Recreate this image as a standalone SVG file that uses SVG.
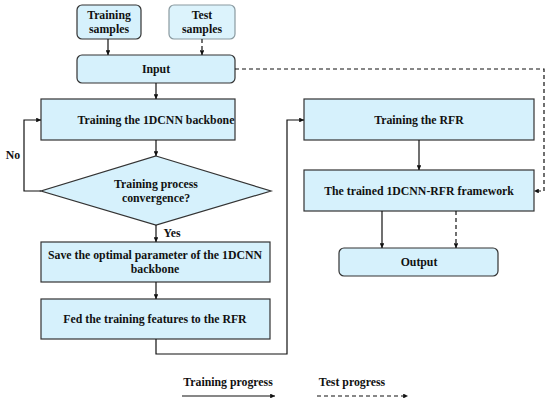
<svg xmlns="http://www.w3.org/2000/svg" width="550" height="404" viewBox="0 0 550 404">
<defs>
<marker id="ah" viewBox="0 0 10 10" refX="10" refY="5" markerWidth="4" markerHeight="4" orient="auto"><path d="M0,0 L10,5 L0,10 z" fill="#111"/></marker>
<style>
.box{fill:#d6f1fc;stroke:#333;stroke-width:1.2}
.tbox{fill:#dcf3fc;stroke:#8a9aa0;stroke-width:1.2}
.t{font-family:"Liberation Serif","Times New Roman",serif;font-weight:bold;font-size:11.8px;fill:#111;text-anchor:middle}
.s{fill:none;stroke:#111;stroke-width:1.2}
.d{fill:none;stroke:#111;stroke-width:1.2;stroke-dasharray:4,3}
</style>
</defs>
<rect width="550" height="404" fill="#fff"/>
<g id="training-samples"><rect class="box" x="77" y="5" width="64" height="34" rx="5"/><text class="t" x="109" y="19">Training</text><text class="t" x="109" y="33">samples</text></g>
<g id="test-samples"><rect class="tbox" x="169" y="5" width="66" height="34" rx="5"/><text class="t" x="202" y="19">Test</text><text class="t" x="202" y="33">samples</text></g>
<g id="input"><rect class="box" x="77" y="55" width="158" height="28" rx="5"/><text class="t" x="156" y="73">Input</text></g>
<g id="train-backbone"><rect class="box" x="41" y="99" width="194" height="41"/><text class="t" x="156" y="124">Training the 1DCNN backbone</text></g>
<g id="convergence"><polygon class="box" points="156,156 271,191 156,225 41,191"/><text class="t" x="156" y="188">Training process</text><text class="t" x="156" y="202">convergence?</text></g>
<g id="save"><rect class="box" x="41" y="242" width="229" height="40"/><text class="t" x="155" y="259">Save the optimal parameter of the 1DCNN</text><text class="t" x="155" y="273">backbone</text></g>
<g id="fed"><rect class="box" x="41" y="299" width="229" height="40"/><text class="t" x="155" y="323">Fed the training features to the RFR</text></g>
<g id="train-rfr"><rect class="box" x="304" y="99" width="230" height="41"/><text class="t" x="419" y="124">Training the RFR</text></g>
<g id="framework"><rect class="box" x="304" y="170" width="230" height="41"/><text class="t" x="419" y="195">The trained 1DCNN-RFR framework</text></g>
<g id="output"><rect class="box" x="339" y="248" width="159" height="28" rx="5"/><text class="t" x="419" y="266">Output</text></g>
<g id="connectors">
<line class="s" x1="108" y1="39" x2="108" y2="55" marker-end="url(#ah)"/>
<line class="d" x1="202" y1="39" x2="202" y2="55" marker-end="url(#ah)"/>
<line class="s" x1="156" y1="83" x2="156" y2="99" marker-end="url(#ah)"/>
<line class="s" x1="156" y1="140" x2="156" y2="156" marker-end="url(#ah)"/>
<polyline class="s" points="41,191 24,191 24,120 41,120" marker-end="url(#ah)"/>
<text class="t" x="13" y="159">No</text>
<line class="s" x1="156" y1="225" x2="156" y2="242" marker-end="url(#ah)"/>
<text class="t" x="172" y="237">Yes</text>
<line class="s" x1="156" y1="282" x2="156" y2="299" marker-end="url(#ah)"/>
<polyline class="s" points="156,339 156,354 287,354 287,120 304,120" marker-end="url(#ah)"/>
<line class="s" x1="419" y1="140" x2="419" y2="170" marker-end="url(#ah)"/>
<polyline class="d" points="235,69 544,69 544,191 534,191" marker-end="url(#ah)"/>
<line class="s" x1="382" y1="211" x2="382" y2="248" marker-end="url(#ah)"/>
<line class="d" x1="456" y1="211" x2="456" y2="248" marker-end="url(#ah)"/>
</g>
<g id="legend">
<text class="t" x="228" y="386">Training progress</text>
<line class="s" x1="182" y1="396" x2="275" y2="396" marker-end="url(#ah)"/>
<text class="t" x="352" y="386">Test progress</text>
<line class="d" x1="317" y1="396" x2="408" y2="396" marker-end="url(#ah)"/>
</g>
</svg>
